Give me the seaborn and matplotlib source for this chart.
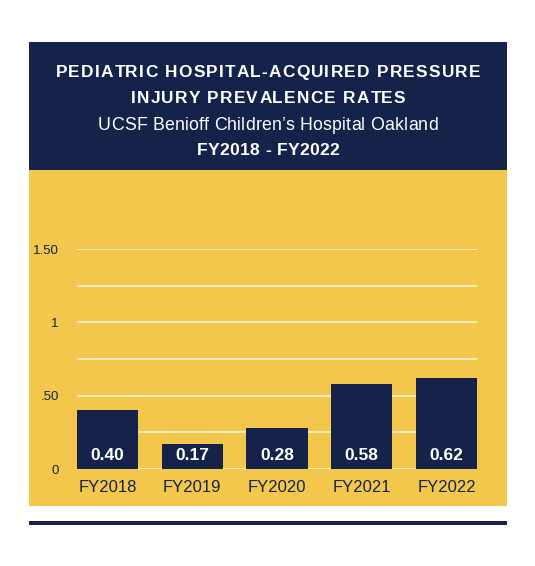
import matplotlib
matplotlib.use('Agg')
import matplotlib.pyplot as plt
import seaborn as sns
import pandas as pd
from matplotlib.patches import Rectangle
from matplotlib.font_manager import FontProperties

# Data
years = ['FY2018', 'FY2019', 'FY2020', 'FY2021', 'FY2022']
rates = [0.40, 0.17, 0.28, 0.58, 0.62]
value_labels = ['0.40', '0.17', '0.28', '0.58', '0.62']
grid_values = [0, 0.25, 0.5, 0.75, 1.0, 1.25, 1.5]
grid_labels = ['0', '', '.50', '', '1', '', '1.50']

title_lines = ['PEDIATRIC HOSPITAL-ACQUIRED PRESSURE',
               'INJURY PREVALENCE RATES',
               'UCSF Benioff Children\u2019s Hospital Oakland',
               'FY2018 - FY2022']

navy = '#15224a'
yellow = '#f2c74c'

sns.set_style('white')
plt.rcParams['font.family'] = ['Liberation Sans', 'DejaVu Sans']

W, H = 535, 566
fig = plt.figure(figsize=(W / 100, H / 100), dpi=100)
fig.patch.set_facecolor('white')
renderer = fig.canvas.get_renderer()


def px_rect(x0, y0, x1, y1, color):
    # pixel coords from top-left
    fig.patches.append(Rectangle((x0 / W, 1 - y1 / H), (x1 - x0) / W, (y1 - y0) / H,
                                 transform=fig.transFigure, facecolor=color,
                                 edgecolor='none', zorder=-5))


def spaced_text(s, cx, cy, size, weight, width):
    # draw text letter by letter so it can be tracked out to a given width
    prop = FontProperties(family='Liberation Sans', size=size, weight=weight)

    def w(t):
        return renderer.get_text_width_height_descent(t, prop, ismath=False)[0]

    bar = w('|')
    natural = w(s)
    sp = (width - natural) / (len(s) - 1)
    x0 = cx - width / 2
    for i, ch in enumerate(s):
        if ch == ' ':
            continue
        x = x0 + (w(s[:i] + '|') - bar if i else 0) + i * sp
        fig.text(x / W, 1 - cy / H, ch, fontproperties=prop, color='white',
                 ha='left', va='center_baseline')


px_rect(29, 42, 507, 170, navy)
px_rect(29, 170, 507, 506, yellow)
px_rect(29, 521, 507, 525, navy)

# Header text
spaced_text(title_lines[0], 268, 71, 12.4, 'bold', 425)
spaced_text(title_lines[1], 268, 97, 12.4, 'bold', 275)
spaced_text(title_lines[2], 268, 123, 12.8, 'normal', 340)
spaced_text(title_lines[3], 268, 149, 12.6, 'bold', 143)

# Chart axes
ax = fig.add_axes([77 / W, 1 - 469 / H, 400 / W, 220 / H])
ax.patch.set_alpha(0)

df = pd.DataFrame({'year': years, 'rate': rates})
sns.barplot(data=df, x='year', y='rate', color=navy, saturation=1,
            width=0.72, ax=ax, zorder=3, edgecolor=navy, linewidth=0)

for v in grid_values:
    ax.axhline(v, color='white', lw=1.1, alpha=0.85, zorder=1)

ax.set_ylim(0, 1.5)
ax.set_xlim(-0.36, 4.36)
ax.set_yticks(grid_values)
ax.set_yticklabels(grid_labels)
ax.tick_params(axis='y', length=0, pad=13, labelsize=9.5, labelcolor=navy)
ax.tick_params(axis='x', length=0, pad=8, labelsize=12, labelcolor=navy)
ax.set_xlabel('')
ax.set_ylabel('')
for s in ax.spines.values():
    s.set_visible(False)

for i, lab in enumerate(value_labels):
    ax.annotate(lab, (i, 0), xytext=(0, 9.5), textcoords='offset points',
                ha='center', va='center', color='white', fontsize=12.5,
                fontweight='bold', zorder=4)

fig.savefig('out.png', dpi=100)
